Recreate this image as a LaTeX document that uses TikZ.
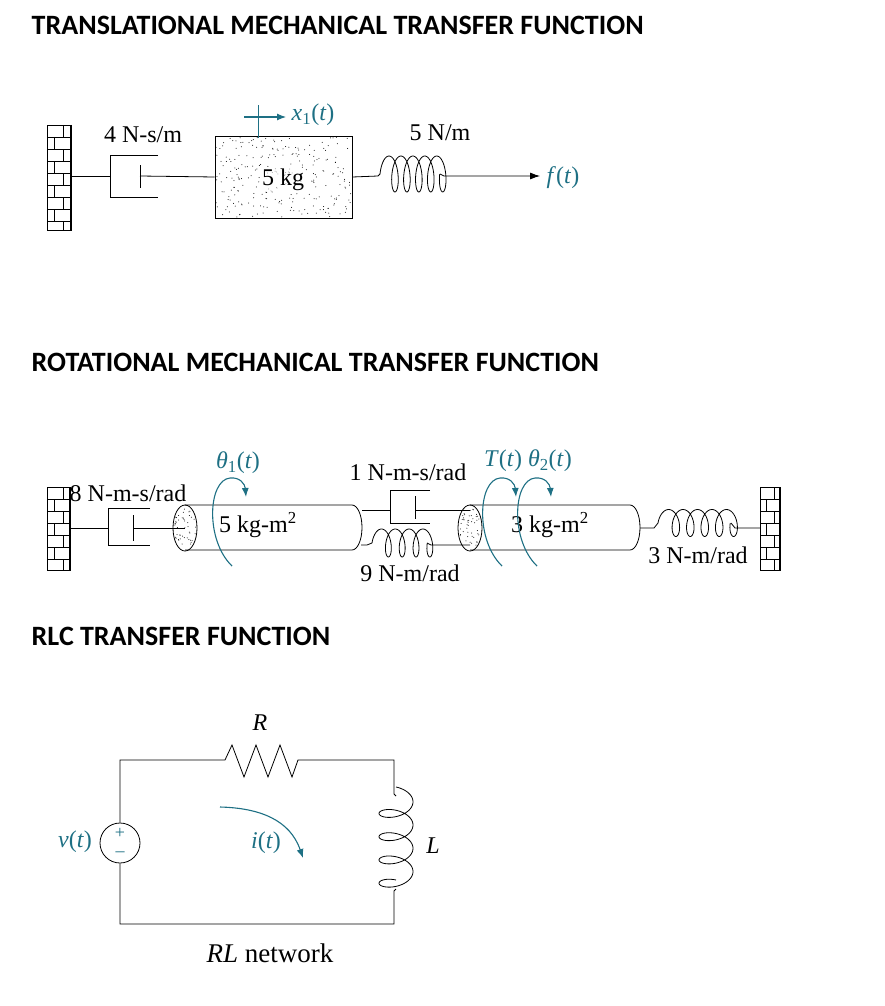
\documentclass[tikz,border=0pt]{standalone}
\usepackage{fontspec}
\setmainfont{Liberation Serif}
\newfontfamily\titlefont{Carlito}
\usetikzlibrary{arrows.meta}
\definecolor{tealc}{RGB}{30,112,132}
\newcommand{\hspring}[6]{% x0 yc p w h nloops  (horizontal, loops hang down)
  \draw plot[domain=-90:{360*(#6-1)+270},samples=180,smooth] ({#1+#3*(\x*pi/180+pi/2)+#4*sin(\x)},{#2-#5*cos(\x)});}
\newcommand{\vspring}[6]{% xc y0 p w h nloops (vertical)
  \draw plot[domain=-90:{360*(#6-1)+270},samples=180,smooth] ({#1+#5*cos(\x)},{#2+#3*(\x*pi/180+pi/2)+#4*sin(\x)});}
\begin{document}
\begin{tikzpicture}[x=1pt,y=-1pt,line width=0.8pt,
  ttl/.style={anchor=west,font=\titlefont\bfseries\fontsize{28}{32}\selectfont},
  lbl/.style={font=\fontsize{24}{28}\selectfont},
  tlbl/.style={font=\fontsize{24}{28}\selectfont,text=tealc},
  tarrow/.style={draw=tealc,line width=1.1pt,-{Latex[length=9pt,width=7pt]}}]
\useasboundingbox (0,0) rectangle (885,1006);
\pgfmathsetseed{7}
% titles
\node[ttl] (t1) at (28,25) {TRANSLATIONAL MECHANICAL TRANSFER FUNCTION};
\node[ttl] (t2) at (28,362) {ROTATIONAL MECHANICAL TRANSFER FUNCTION};
\node[ttl] (t3) at (28,636) {RLC TRANSFER FUNCTION};
% wall macro
\newcommand{\brickwall}[4]{%
  \draw (#1,#2) rectangle (#3,#4);
  \pgfmathtruncatemacro{\nb}{(#4-#2)/12}
  \foreach \k in {1,...,\nb}{
    \pgfmathsetmacro{\yy}{#2+\k*12}
    \ifdim\yy pt<#4pt \draw (#1,\yy) -- (#3,\yy);\fi}
  \foreach \k in {0,...,\nb}{
    \pgfmathsetmacro{\ya}{#2+\k*12}
    \pgfmathsetmacro{\yb}{min(#2+\k*12+12,#4)}
    \pgfmathsetmacro{\xv}{isodd(\k) ? #1+(#3-#1)*0.3 : #1+(#3-#1)*0.7}
    \draw (\xv,\ya) -- (\xv,\yb);}
  \draw[line width=1.2pt] (#3,#2) -- (#3,#4);
}
% ================= TRANSLATIONAL =================
\brickwall{47}{125}{71}{230}
\coordinate (w1) at (71,176);
\coordinate (d1a) at (110,176);
\draw (w1) -- (d1a);
\draw (158,155) -- (110,155) -- (110,197) -- (158,197);
\draw (140,165) -- (140,188);
\node[draw,minimum width=137pt,minimum height=82pt,inner sep=0pt] (m1) at (283.5,177) {};
\foreach \i in {1,...,260}{
  \fill (216+135*rnd,137+80*rnd) circle (0.5pt);}
\node[lbl,fill=white,fill opacity=0.6,text opacity=1,inner sep=1pt] (m1l) at (283,180) {5 kg};
\draw (140,176) -- (m1.west);
\coordinate (s1a) at (378,176);
\draw (m1.east) -- (s1a);
\hspring{386}{174}{1.9}{6}{18}{5}
\draw (s1a) -- (380,174);
\coordinate (s1b) at (440,174);
\coordinate (fa) at (540,176);
\draw[-{Latex[length=10pt,width=7pt]}] (s1b) -- (444,176) -- (fa);
\node[tlbl,anchor=west] (fl) at (543,178) {\textit{f}(\textit{t})};
\node[lbl] (k1) at (440,133) {5 N/m};
\node[lbl] (b1) at (143,135) {4 N-s/m};
\coordinate (xa) at (258,138);
\coordinate (xb) at (258,105);
\draw[tealc,line width=1pt] (xa) -- (xb);
\coordinate (xc) at (244,117);
\coordinate (xd) at (286,117);
\draw[tarrow] (xc) -- (xd);
\node[tlbl,anchor=west] (xl) at (288,115) {\textit{x}\textsubscript{1}(\textit{t})};
% ================= ROTATIONAL =================
\brickwall{47}{487}{70}{570}
\brickwall{760}{487}{780}{570}
\draw (70,528) -- (108,528);
\draw (150,508) -- (108,508) -- (108,545) -- (150,545);
\draw (133,515) -- (133,541);
\draw (133,528) -- (185,528);
% cylinder 1
\foreach \i in {1,...,45}{
  \pgfmathsetmacro{\ang}{360*rnd}\pgfmathsetmacro{\rr}{sqrt(rnd)}
  \fill ({185+11*\rr*cos(\ang)},{528+21*\rr*sin(\ang)}) circle (0.5pt);}
\draw (185,528) ellipse [x radius=12,y radius=23];
\draw (185,505) -- (352,505) arc[start angle=-90,end angle=90,x radius=10,y radius=22.5] -- (185,550);
\node[lbl] (j1) at (258,525) {5 kg-m\textsuperscript{2}};
% middle dashpot & spring
\draw (362,510) -- (390,510);
\draw (430,490) -- (390,490) -- (390,523) -- (430,523);
\draw (415,496) -- (415,519);
\draw (415,510) -- (470,510);
\draw (361,545) -- (367,545) -- (372,543);
\hspring{378}{543}{2.2}{6}{14}{4}
\draw (427,543) -- (431,545) -- (470,545);
\node[lbl] (b2) at (408,472) {1 N-m-s/rad};
\node[lbl] (k2) at (410,573) {9 N-m/rad};
\node[lbl] (b3) at (128,493) {8 N-m-s/rad};
% cylinder 2
\foreach \i in {1,...,45}{
  \pgfmathsetmacro{\ang}{360*rnd}\pgfmathsetmacro{\rr}{sqrt(rnd)}
  \fill ({470+11*\rr*cos(\ang)},{528+21*\rr*sin(\ang)}) circle (0.5pt);}
\draw (470,528) ellipse [x radius=12,y radius=23];
\draw (470,505) -- (630,505) arc[start angle=-90,end angle=90,x radius=10,y radius=22.5] -- (470,550);
\node[lbl] (j2) at (550,525) {3 kg-m\textsuperscript{2}};
\draw (640,528) -- (654,528) -- (658,523);
\hspring{665}{523}{2.3}{7}{13.5}{5}
\draw (731,523) -- (735,528) -- (760,528);
\node[lbl] (k3) at (698,555) {3 N-m/rad};
% torque arcs
\draw[tarrow] (232,566) .. controls (205,540) and (208,480) .. (230,478) .. controls (240,477) and (245,484) .. (246,497);
\draw[tarrow] (502,566) .. controls (475,540) and (478,480) .. (500,478) .. controls (510,477) and (515,484) .. (516,497);
\draw[tarrow] (537,566) .. controls (510,540) and (513,480) .. (535,478) .. controls (545,477) and (550,484) .. (551,497);
\node[tlbl] (th1) at (238,463) {\textit{θ}\textsubscript{1}(\textit{t})};
\node[tlbl] (th2) at (528,461) {\textit{T}(\textit{t}) \textit{θ}\textsubscript{2}(\textit{t})};
% ================= RL =================
\coordinate (c1) at (120,760);
\coordinate (ra) at (225,760);
\coordinate (rb) at (298,760);
\coordinate (c2) at (394,760);
\coordinate (la) at (394,794);
\coordinate (lb) at (394,891);
\coordinate (c3) at (394,924);
\coordinate (c4) at (120,924);
\node[draw,circle,minimum size=40pt,inner sep=0pt] (vs) at (120,843) {};
\node[tlbl,font=\fontsize{18}{20}\selectfont,inner sep=0pt] (vp) at (120,833) {+};
\node[tlbl,font=\fontsize{18}{20}\selectfont,inner sep=0pt] (vm) at (120,854) {–};
\draw (vs.north) -- (c1) -- (ra) -- (232,745) -- (244,777) -- (256,745) -- (268,777) -- (280,745) -- (292,777) -- (rb) -- (c2) -- (la);
\vspring{396}{796}{3.7}{9}{17}{4}
\draw (la) -- (396,796);
\draw (396,889) -- (lb) -- (c3) -- (c4) -- (vs.south);
\draw[tarrow] (220,807) .. controls (260,808) and (290,820) .. (303,858);
\node[tlbl] (il) at (266,843) {\textit{i}(\textit{t})};
\node[tlbl] (vl) at (75,842) {\textit{v}(\textit{t})};
\node[lbl] (rl) at (260,723) {\textit{R}};
\node[lbl] (ll) at (433,846) {\textit{L}};
\node[lbl,font=\fontsize{27}{30}\selectfont] (rn) at (270,953) {\textit{RL} network};
\end{tikzpicture}
\end{document}
